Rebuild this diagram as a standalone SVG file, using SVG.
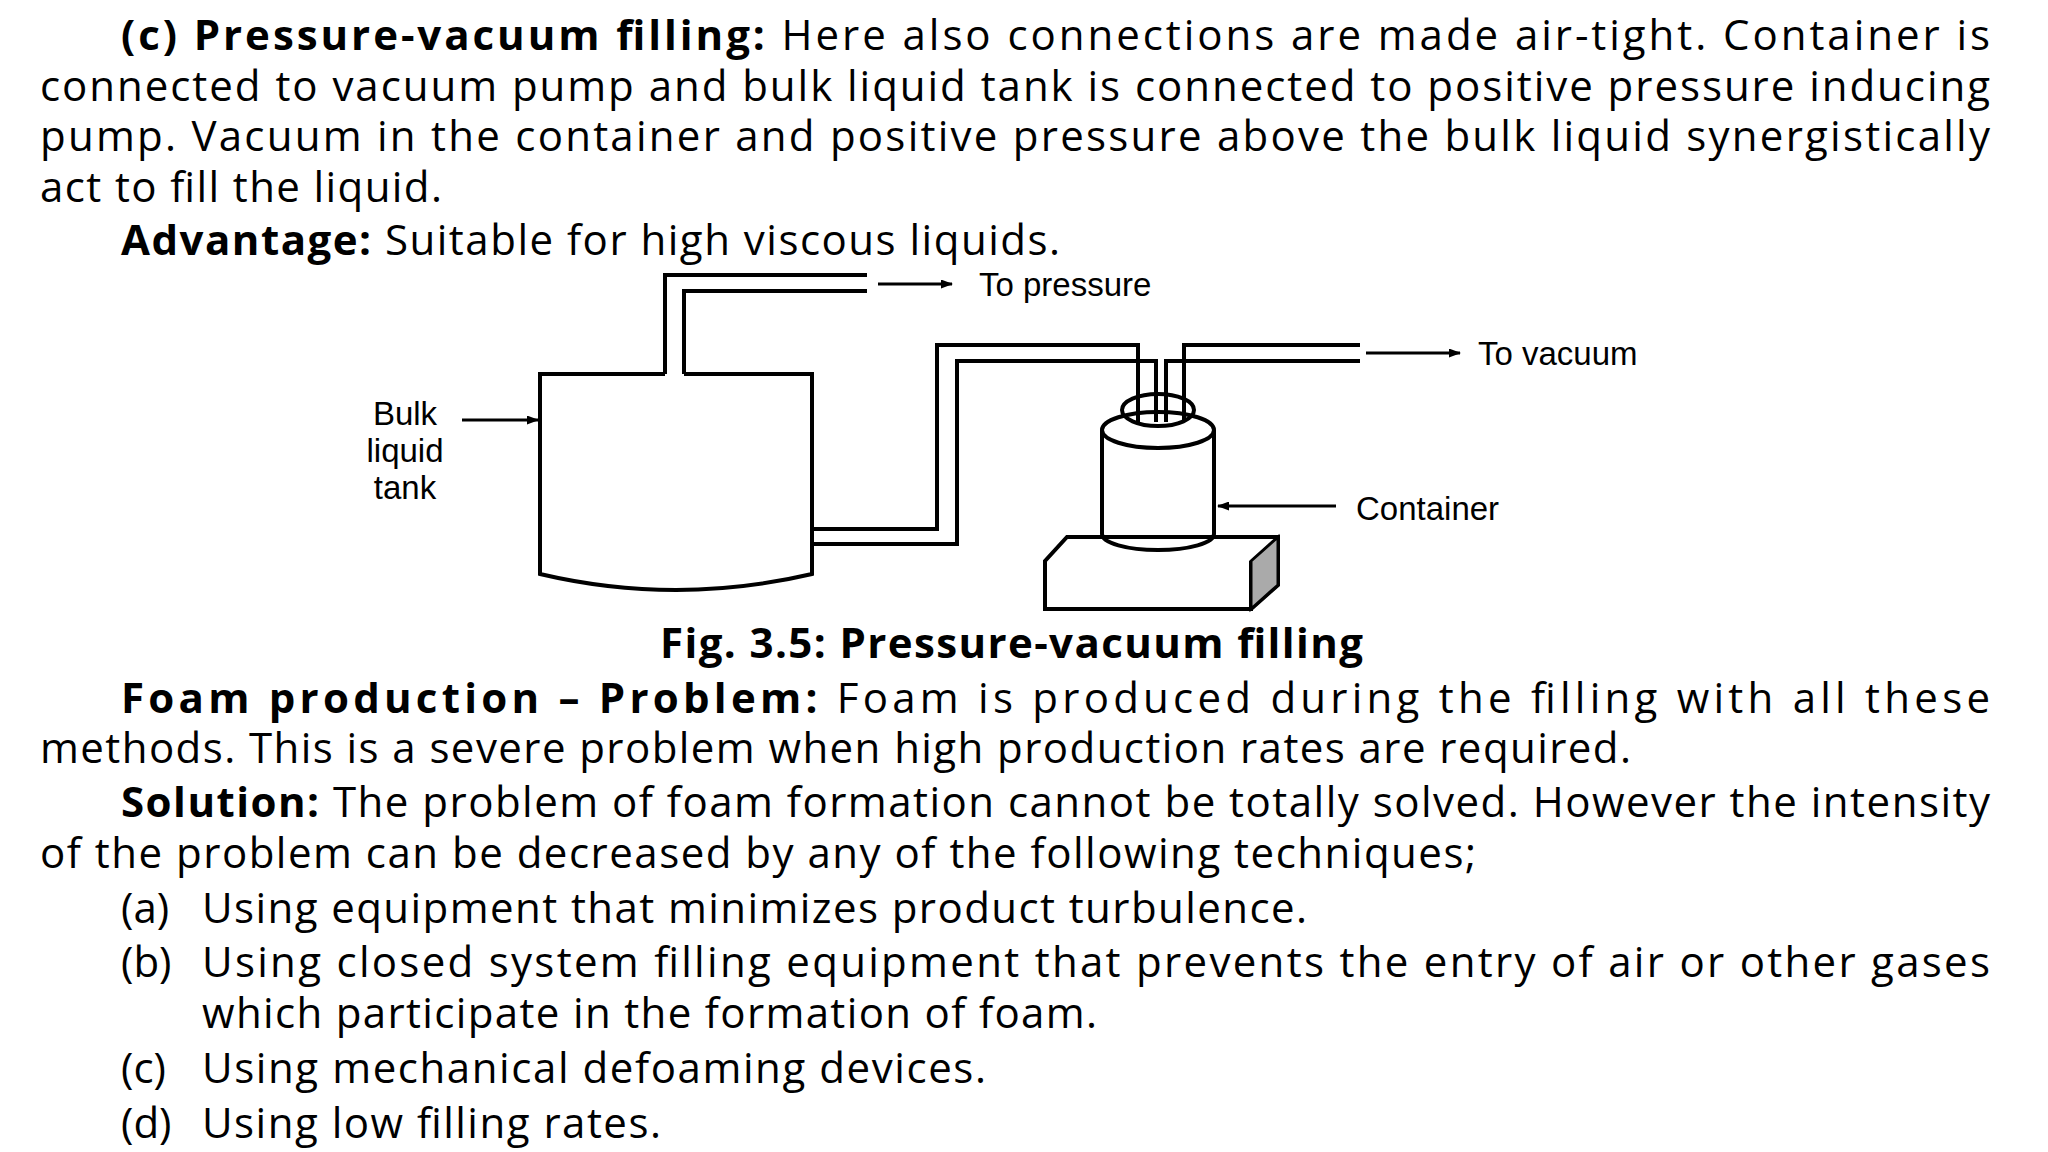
<svg xmlns="http://www.w3.org/2000/svg" width="2048" height="1152" viewBox="0 0 2048 1152">
<style>
.t{font-family:"Open Sans","Noto Sans",sans-serif;font-size:42px;fill:#000}
.b{font-weight:bold}
.l{font-family:"Liberation Sans",Arial,sans-serif;font-size:33px;fill:#000}
.p{fill:none;stroke:#000;stroke-width:4}
.a{stroke:#000;stroke-width:3;fill:none}
</style>
<defs><marker id="ah" markerWidth="12" markerHeight="9" refX="11" refY="4.5" orient="auto" markerUnits="userSpaceOnUse"><path d="M0,0L12,4.5L0,9z" fill="#000"/></marker></defs>
<rect width="2048" height="1152" fill="#fff"/>
<g id="text">
<text class="t" x="121" y="50" textLength="1869" lengthAdjust="spacing"><tspan class="b">(c) Pressure-vacuum filling:</tspan> Here also connections are made air-tight. Container is</text>
<text class="t" x="40" y="101" textLength="1950" lengthAdjust="spacing">connected to vacuum pump and bulk liquid tank is connected to positive pressure inducing</text>
<text class="t" x="40" y="151" textLength="1950" lengthAdjust="spacing">pump.  Vacuum in the container and positive pressure above the bulk liquid synergistically</text>
<text class="t" x="40" y="202" textLength="402" lengthAdjust="spacing">act to fill the liquid.</text>
<text class="t" x="121" y="255" textLength="939" lengthAdjust="spacing"><tspan class="b">Advantage:</tspan> Suitable for high viscous liquids.</text>
<text class="t b" x="660" y="658" textLength="703" lengthAdjust="spacing">Fig. 3.5: Pressure-vacuum filling</text>
<text class="t" x="121" y="713" textLength="1869" lengthAdjust="spacing"><tspan class="b">Foam production – Problem:</tspan> Foam is produced during the filling with all these</text>
<text class="t" x="40" y="763" textLength="1591" lengthAdjust="spacing">methods.  This is a severe problem when high production rates are required.</text>
<text class="t" x="121" y="817" textLength="1869" lengthAdjust="spacing"><tspan class="b">Solution:</tspan> The problem of foam formation cannot be totally solved. However the intensity</text>
<text class="t" x="40" y="868" textLength="1436" lengthAdjust="spacing">of the problem can be decreased by any of the following techniques;</text>
<text class="t" x="121" y="923">(a)</text><text class="t" x="202" y="923" textLength="1105" lengthAdjust="spacing">Using equipment that minimizes product turbulence.</text>
<text class="t" x="121" y="977">(b)</text><text class="t" x="202" y="977" textLength="1788" lengthAdjust="spacing">Using closed system filling equipment that prevents the entry of air or other gases</text>
<text class="t" x="202" y="1028" textLength="895" lengthAdjust="spacing">which participate in the formation of foam.</text>
<text class="t" x="121" y="1083">(c)</text><text class="t" x="202" y="1083" textLength="784" lengthAdjust="spacing">Using mechanical defoaming devices.</text>
<text class="t" x="121" y="1138">(d)</text><text class="t" x="202" y="1138" textLength="459" lengthAdjust="spacing">Using low filling rates.</text>
</g>
<g id="tank">
<path class="p" d="M665,374H540V574Q676,606 812,574V374H684"/>
</g>
<g id="container">
<path class="p" d="M1251,561V609H1045V561L1067,537H1278V585L1251,609" fill="#fff"/>
<path d="M1251,561L1278,537V585L1251,609z" fill="#aaa" stroke="#000" stroke-width="3"/>
<path class="p" d="M1102,430V534A56,16 0 0 0 1214,534V430" fill="#fff"/>
<ellipse class="p" cx="1158" cy="430" rx="56" ry="18" fill="#fff"/>
<ellipse class="p" cx="1158" cy="410" rx="36" ry="16" fill="#ccc"/>
</g>
<g id="pipes">
<path class="p" d="M665,374V275H867M684,374V291H867"/>
<path class="p" d="M812,529H937V345H1138V422M812,544H957V361H1156V422"/>
<path class="p" d="M1166,422V361H1360M1184,422V345H1360"/>
</g>
<g id="connectors">
<line class="a" x1="878" y1="284" x2="952" y2="284" marker-end="url(#ah)"/>
<line class="a" x1="1366" y1="353" x2="1460" y2="353" marker-end="url(#ah)"/>
<line class="a" x1="1336" y1="506" x2="1218" y2="506" marker-end="url(#ah)"/>
<line class="a" x1="462" y1="420" x2="538" y2="420" marker-end="url(#ah)"/>
</g>
<g id="labels">
<text class="l" x="979" y="296">To pressure</text>
<text class="l" x="1478" y="365">To vacuum</text>
<text class="l" x="1356" y="520">Container</text>
<text class="l" x="405" y="425" text-anchor="middle">Bulk</text>
<text class="l" x="405" y="462" text-anchor="middle">liquid</text>
<text class="l" x="405" y="499" text-anchor="middle">tank</text>
</g>
</svg>
